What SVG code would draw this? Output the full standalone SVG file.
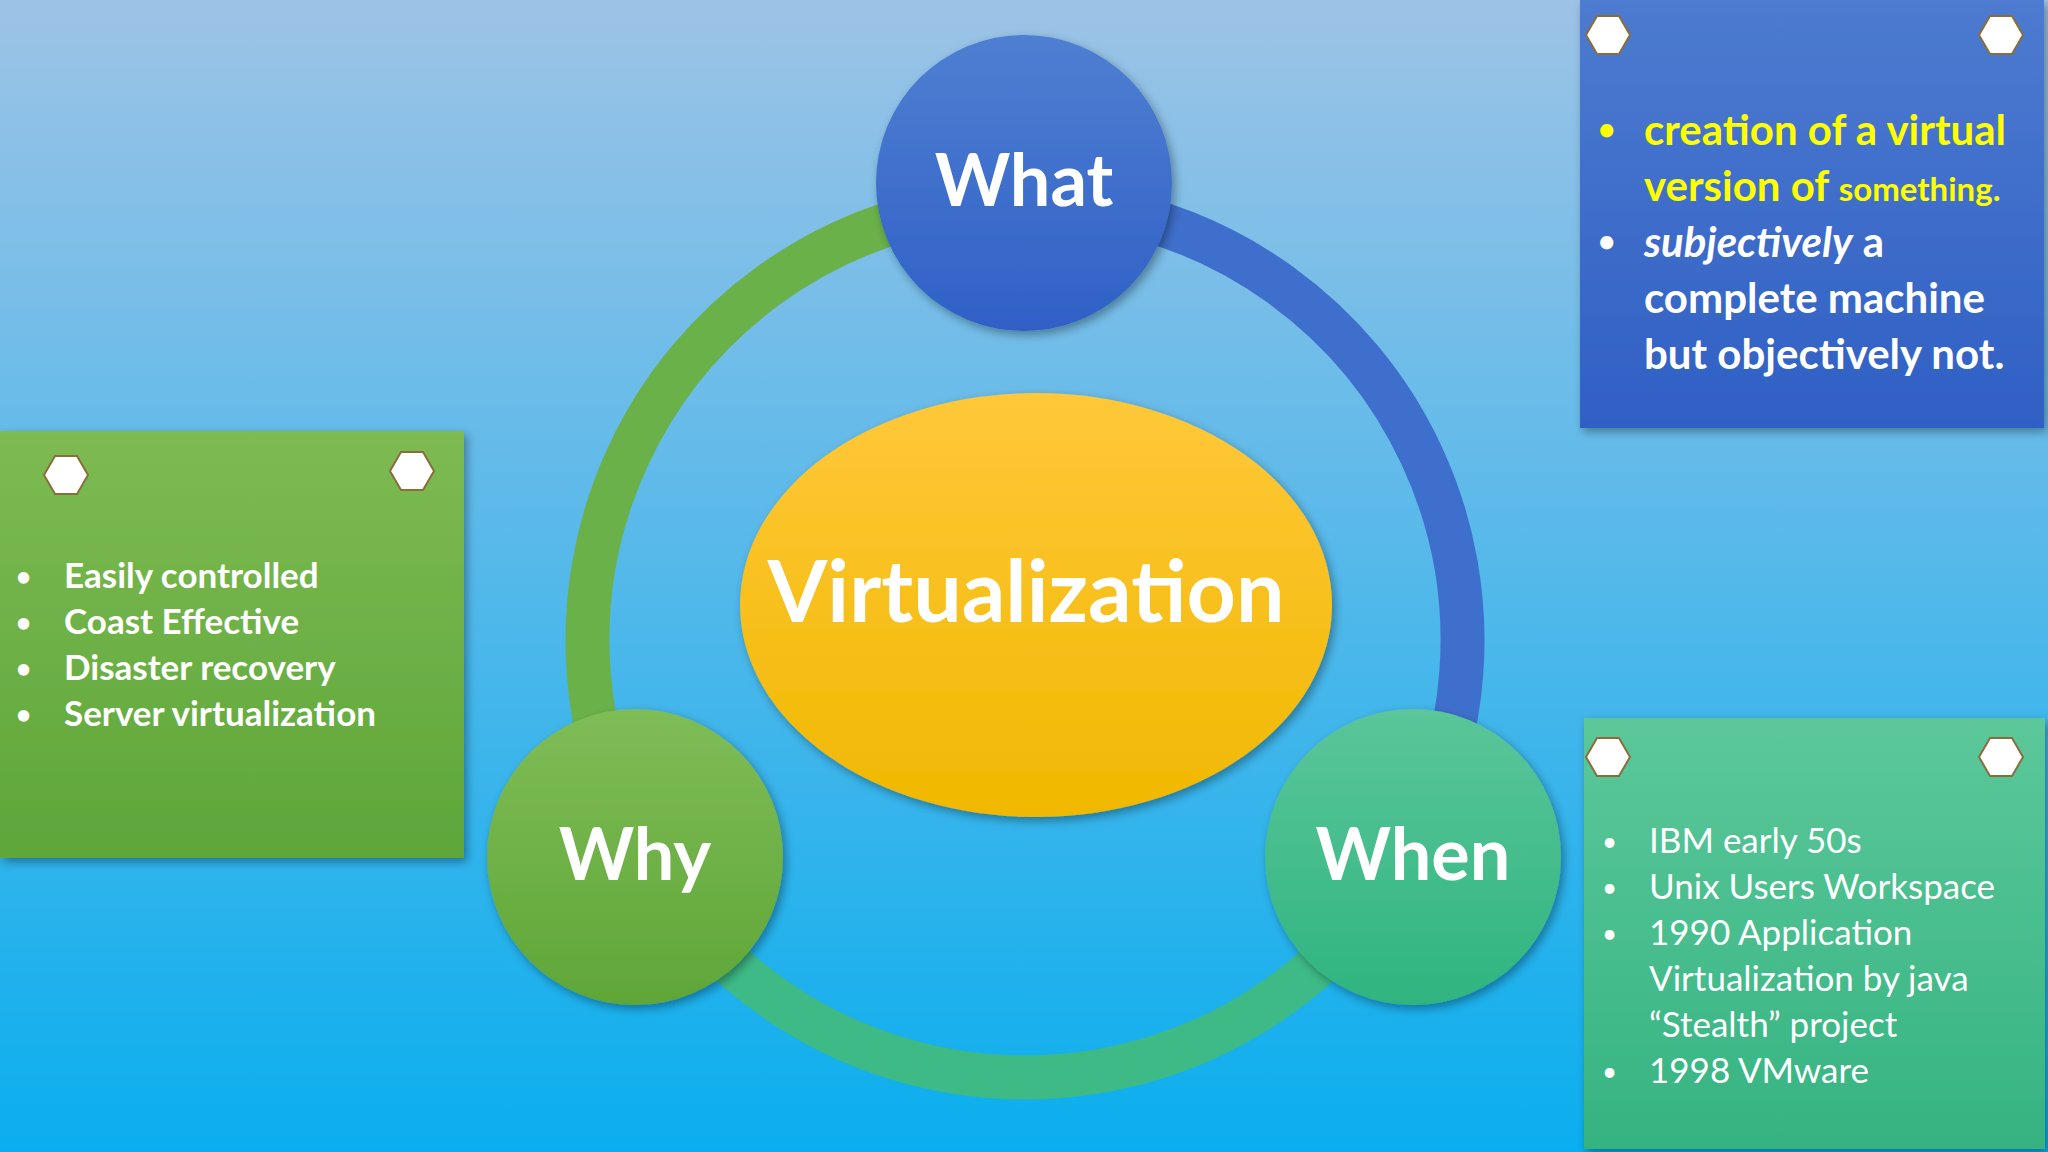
<svg xmlns="http://www.w3.org/2000/svg" width="2048" height="1152" viewBox="0 0 2048 1152">
<defs>
<linearGradient id="bg" x1="0" y1="0" x2="0" y2="1"><stop offset="0" stop-color="#9dc3e6"/><stop offset="1" stop-color="#0aaeee"/></linearGradient>
<linearGradient id="gbox" x1="0" y1="0" x2="0" y2="1"><stop offset="0" stop-color="#7dbb52"/><stop offset="1" stop-color="#5ea63a"/></linearGradient>
<linearGradient id="bbox" x1="0" y1="0" x2="0" y2="1"><stop offset="0" stop-color="#4d7bd0"/><stop offset="1" stop-color="#2f5fc4"/></linearGradient>
<linearGradient id="tbox" x1="0" y1="0" x2="0" y2="1"><stop offset="0" stop-color="#5cc89a"/><stop offset="1" stop-color="#35b381"/></linearGradient>
<linearGradient id="gc" x1="0" y1="0" x2="0" y2="1"><stop offset="0" stop-color="#7fbd56"/><stop offset="1" stop-color="#5fa638"/></linearGradient>
<linearGradient id="bc" x1="0" y1="0" x2="0" y2="1"><stop offset="0" stop-color="#4f7fd2"/><stop offset="1" stop-color="#2f60c6"/></linearGradient>
<linearGradient id="tc" x1="0" y1="0" x2="0" y2="1"><stop offset="0" stop-color="#5bc69a"/><stop offset="1" stop-color="#2fb47f"/></linearGradient>
<linearGradient id="yc" x1="0" y1="0" x2="0" y2="1"><stop offset="0" stop-color="#ffc83a"/><stop offset="1" stop-color="#f0b800"/></linearGradient>
<filter id="sh" x="-20%" y="-20%" width="140%" height="140%"><feDropShadow dx="3" dy="4" stdDeviation="5" flood-opacity="0.35"/></filter>
<polygon id="hex" points="-22,0 -11,-19 11,-19 22,0 11,19 -11,19" fill="#fff" stroke="#8a6d3b" stroke-width="2"/>
</defs>
<style>
.t{font-family:Lato,"Open Sans",sans-serif;fill:#fff}
.b{font-weight:bold}
.big{font-family:Lato,"Open Sans",sans-serif;font-weight:bold;fill:#fff;text-anchor:middle}
.y{fill:#ffff00}
</style>
<rect width="2048" height="1152" fill="url(#bg)"/>
<g id="connectors" fill="none" stroke-width="44">
<path d="M 949 209 A 438 438 0 0 0 646 859" stroke="#6bb14a"/>
<path d="M 1101 209 A 438 438 0 0 1 1404 859" stroke="#3f6fcc"/>
<path d="M 646 859 A 438 438 0 0 0 1404 859" stroke="#3dba86"/>
</g>
<g id="what" filter="url(#sh)"><circle cx="1024" cy="183" r="148" fill="url(#bc)"/><text class="big" x="1024" y="206" font-size="72">What</text></g>
<g id="why" filter="url(#sh)"><circle cx="635" cy="857" r="148" fill="url(#gc)"/><text class="big" x="635" y="880" font-size="72">Why</text></g>
<g id="when" filter="url(#sh)"><circle cx="1413" cy="857" r="148" fill="url(#tc)"/><text class="big" x="1413" y="880" font-size="72">When</text></g>
<g id="center" filter="url(#sh)"><ellipse cx="1036" cy="605" rx="296" ry="212" fill="url(#yc)"/><text class="big" x="1026" y="622" font-size="86">Virtualization</text></g>
<g id="leftbox">
<rect x="0" y="431" width="464" height="427" fill="url(#gbox)" filter="url(#sh)"/>
<use href="#hex" x="66" y="475"/><use href="#hex" x="412" y="471"/>
<g class="t b" font-size="35">
<text x="16" y="586" font-size="26">•</text><text x="64" y="588">Easily controlled</text>
<text x="16" y="632" font-size="26">•</text><text x="64" y="634">Coast Effective</text>
<text x="16" y="678" font-size="26">•</text><text x="64" y="680">Disaster recovery</text>
<text x="16" y="724" font-size="26">•</text><text x="64" y="726">Server virtualization</text>
</g>
</g>
<g id="whatbox">
<rect x="1580" y="0" width="464" height="428" fill="url(#bbox)" filter="url(#sh)"/>
<use href="#hex" x="1608" y="35"/><use href="#hex" x="2001" y="35"/>
<g class="t b" font-size="42">
<text class="y" x="1598" y="140" font-size="30">•</text><text class="y" x="1644" y="145">creation of a virtual</text>
<text class="y" x="1644" y="201">version of <tspan font-size="33">something.</tspan></text>
<text x="1598" y="252" font-size="30">•</text><text x="1644" y="257"><tspan font-style="italic">subjectively</tspan> a</text>
<text x="1644" y="313">complete machine</text>
<text x="1644" y="369">but objectively not.</text>
</g>
</g>
<g id="whenbox">
<rect x="1584" y="718" width="461" height="431" fill="url(#tbox)" filter="url(#sh)"/>
<use href="#hex" x="1608" y="757"/><use href="#hex" x="2001" y="757"/>
<g class="t" font-size="35">
<text x="1602" y="851" font-size="26">•</text><text x="1649" y="853">IBM early 50s</text>
<text x="1602" y="897" font-size="26">•</text><text x="1649" y="899">Unix Users Workspace</text>
<text x="1602" y="943" font-size="26">•</text><text x="1649" y="945">1990 Application</text>
<text x="1649" y="991">Virtualization by java</text>
<text x="1649" y="1037">“Stealth” project</text>
<text x="1602" y="1081" font-size="26">•</text><text x="1649" y="1083">1998 VMware</text>
</g>
</g>
</svg>
